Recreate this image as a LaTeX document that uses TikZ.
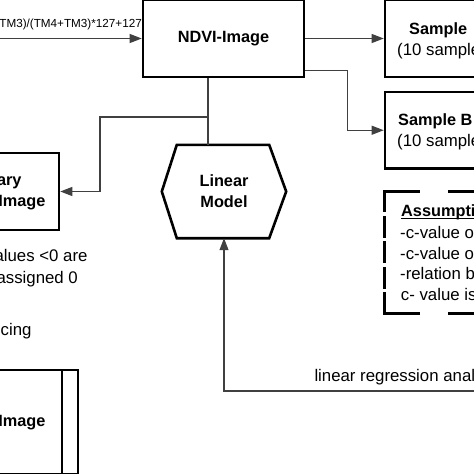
\documentclass[tikz,border=0pt]{standalone}
\usepackage{fontspec}
\setmainfont{Liberation Sans}
\usetikzlibrary{arrows.meta,calc}
\begin{document}
\begin{tikzpicture}[x=1pt,y=-1pt,
  box/.style={draw=black, line width=2.6pt, inner sep=0pt},
  dbox/.style={draw=black, line width=2.7pt, line cap=rect},
  conn/.style={draw=black!75, line width=1.1pt},
  arr/.style={conn, -{Triangle[length=12pt,width=9pt]}},
  bt/.style={font=\fontsize{16.3}{21}\selectfont\bfseries, inner sep=0pt},
  nt/.style={font=\fontsize{16.8}{21}\selectfont, inner sep=0pt},
  st/.style={font=\fontsize{11.7}{14}\selectfont, inner sep=0pt}]
\useasboundingbox (0,0) rectangle (474,474);
\clip (0,0) rectangle (474,474);
\fill[white] (0,0) rectangle (474,474);

% boxes
\node[box, bt, minimum width=161pt, minimum height=77pt] (ndvi) at (223.5,38.5) {NDVI-Image};
\node[box, minimum width=160pt, minimum height=77pt] (sa) at (465,38.5) {};
\node[box, minimum width=160pt, minimum height=76.5pt] (sb) at (465,130.25) {};
\node[box, minimum width=118pt, minimum height=77pt] (bin) at (0,191.5) {};
\node[box, line width=2.2pt, minimum width=156pt, minimum height=104pt] (ci) at (0,422) {};
\draw[line width=2.2pt] ([xshift=-17pt]ci.north east) -- ([xshift=-17pt]ci.south east);
\node[inner sep=0pt, minimum width=160pt, minimum height=121pt] (asm) at (465,252.5) {};
\draw[dbox, dash pattern=on 34pt off 31pt] (asm.north west) -- (asm.north east);
\draw[dbox, dash pattern=on 34pt off 31pt] (asm.south west) -- (asm.south east);
\draw[dbox, dash pattern=on 19pt off 6.5pt] (asm.north west) -- (asm.south west);

% hexagon
\node[bt, align=center, minimum width=124pt, minimum height=93pt] (lm) at (224,191.5) {Linear\\Model};
\draw[line width=2.6pt, line join=miter] (lm.west) -- ([xshift=15pt]lm.north west) -- ([xshift=-17pt]lm.north east) -- (lm.east) -- ([xshift=-17pt]lm.south east) -- ([xshift=15pt]lm.south west) -- cycle;

% texts
\node[st, anchor=base east] (f) at (142,27) {(TM4-TM3)/(TM4+TM3)*127+127};
\node[bt, anchor=base west] (sat) at (409,34) {Sample};
\node[nt, anchor=base west] (sas) at (397,55) {(10 samples)};
\node[bt, anchor=base west] (sbt) at (398,125) {Sample B};
\node[nt, anchor=base west] (sbs) at (397,146.5) {(10 samples)};
\node[bt, anchor=base east] (b1) at (21.7,185.7) {Binary};
\node[bt, anchor=base east] (b2) at (45.7,206) {NDVI-Image};
\node[nt, anchor=base east] (v1) at (87.7,261.7) {values <0 are};
\node[nt, anchor=base east] (v2) at (78,283.3) {assigned 0};
\node[nt, anchor=base east] (ds) at (31.7,335) {Density slicing};
\node[bt, anchor=base east] (cit) at (45.7,426.7) {Classified Image};
\node[nt, anchor=base west] (lra) at (314.3,381.7) {linear regression analysis};
\node[bt, anchor=base west] (as1) at (401,216.7) {Assumptions:};
\draw[line width=1.3pt] ([yshift=-2pt]as1.base west) -- ([yshift=-2pt]as1.base east);
\node[nt, anchor=base west] (as2) at (400,238) {-c-value of};
\node[nt, anchor=base west] (as3) at (400,259) {-c-value of};
\node[nt, anchor=base west] (as4) at (400,279.5) {-relation between};
\node[nt, anchor=base west] (as5) at (400.7,300) {c- value is};

% connectors
\coordinate (fin) at (-20,38.5);
\draw[arr] (fin) -- (ndvi.west);
\draw[arr] (ndvi.east) -- (sa.west);
\draw[arr] ([yshift=8pt]ndvi.south east) -- ++(42,0) |- (sb.west);
\coordinate (j) at (208,117);
\coordinate (jl) at (100,117);
\draw[conn] (ndvi.south -| j) -- (j) -- (lm.north -| j);
\draw[arr] (j) -- (jl) |- (bin.east);
\coordinate (lr) at (490,391);
\draw[arr] (lr) -| (lm.south);
\end{tikzpicture}
\end{document}
